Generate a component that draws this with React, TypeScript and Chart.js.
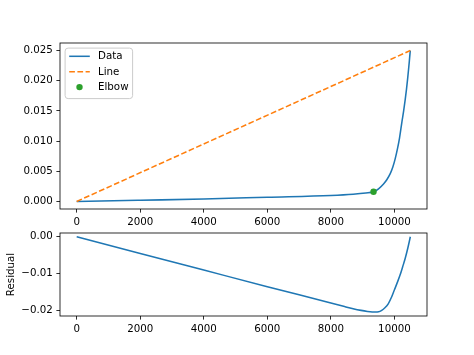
import React, { useEffect, useRef } from "react";
import { Chart, registerables } from "chart.js";

Chart.register(...registerables);

// ---- data ----
const dataX = [0, 2000, 4000, 6000, 8000, 8700, 9100, 9342, 9500, 9657, 9760, 9868, 9950, 10025, 10098, 10160, 10236, 10290, 10340, 10380, 10415, 10445, 10470, 10490, 10500];
const dataY = [0, 0.0002, 0.0004, 0.0007, 0.001, 0.0012, 0.0014, 0.0016, 0.0021, 0.0029, 0.0036, 0.0046, 0.0057, 0.0071, 0.0088, 0.0105, 0.0132, 0.015, 0.0169, 0.0186, 0.0203, 0.0219, 0.0233, 0.0245, 0.025];
const lineX = [0, 10500];
const lineY = [0, 0.025];
const elbowX = [9342];
const elbowY = [0.0016];
const resX = [0, 2000, 4000, 6000, 8000, 8400, 8700, 8950, 9150, 9300, 9400, 9500, 9600, 9700, 9800, 9900, 9970, 10080, 10180, 10260, 10340, 10420, 10470, 10500];
const resY = [0, -0.0045, -0.009, -0.0135, -0.0179, -0.0188, -0.01945, -0.0199, -0.02018, -0.02033, -0.02036, -0.0203, -0.0199, -0.0192, -0.0182, -0.0165, -0.015, -0.0126, -0.0103, -0.0081, -0.0058, -0.0031, -0.0012, 0];

const xTicks = [0, 2000, 4000, 6000, 8000, 10000];
const topYTicks = [0, 0.005, 0.01, 0.015, 0.02, 0.025];
const botYTicks = [-0.02, -0.01, 0];
const legendLabels = ["Data", "Line", "Elbow"];

const BLUE = "#1f77b4";
const ORANGE = "#ff7f0e";
const GREEN = "#2ca02c";
const FONT = "DejaVu Sans";
const FS = 10.28;

const pts = (xs: number[], ys: number[]) => xs.map((x, i) => ({ x, y: ys[i] }));
const fmtMinus = (v: number, d: number) => {
  const s = Math.abs(v) < 1e-12 ? (0).toFixed(d) : v.toFixed(d);
  return s.replace("-", "\u2212");
};

const boxPlugin = {
  id: "box",
  afterDatasetsDraw(chart: any) {
    const { ctx, chartArea: a } = chart;
    ctx.save();
    ctx.strokeStyle = "#000";
    ctx.lineWidth = 0.82;
    ctx.strokeRect(a.left, a.top, a.right - a.left, a.bottom - a.top);
    ctx.restore();
  },
};

const legendPlugin = {
  id: "mplLegend",
  afterDraw(chart: any) {
    const { ctx, chartArea: a } = chart;
    const ds = chart.data.datasets;
    const x0 = a.left + 5.1;
    const y0 = a.top + 5.1;
    const w = 67.5;
    const h = 50.5;
    ctx.save();
    ctx.beginPath();
    if (ctx.roundRect) ctx.roundRect(x0, y0, w, h, 3);
    else ctx.rect(x0, y0, w, h);
    ctx.fillStyle = "rgba(255,255,255,0.8)";
    ctx.fill();
    ctx.strokeStyle = "#cccccc";
    ctx.lineWidth = 1;
    ctx.stroke();
    ctx.font = `${FS}px "${FONT}"`;
    ctx.textBaseline = "middle";
    ctx.textAlign = "left";
    const hx0 = x0 + 4.1;
    const hx1 = hx0 + 20.6;
    ds.forEach((d: any, i: number) => {
      const cy = y0 + 8.2 + i * 15.4;
      if (d.showLine === false) {
        ctx.beginPath();
        ctx.arc((hx0 + hx1) / 2, cy, 3.2, 0, Math.PI * 2);
        ctx.fillStyle = d.backgroundColor;
        ctx.fill();
      } else {
        ctx.beginPath();
        ctx.setLineDash(d.borderDash || []);
        ctx.strokeStyle = d.borderColor;
        ctx.lineWidth = d.borderWidth;
        ctx.moveTo(hx0, cy);
        ctx.lineTo(hx1, cy);
        ctx.stroke();
        ctx.setLineDash([]);
      }
      ctx.fillStyle = "#000";
      ctx.fillText(d.label, hx1 + 8.2, cy + 0.5);
    });
    ctx.restore();
  },
};

const xScale = () => ({
  type: "linear" as const,
  min: -525,
  max: 11025,
  afterBuildTicks: (s: any) => {
    s.ticks = xTicks.map((v) => ({ value: v }));
  },
  afterFit: (s: any) => {
    s.height = 20;
  },
  grid: { display: true, drawOnChartArea: false, drawTicks: true, tickLength: 3.6, color: "#000", lineWidth: 0.82 },
  border: { display: false },
  ticks: {
    color: "#000",
    padding: 3.2,
    maxRotation: 0,
    autoSkip: false,
    font: { family: FONT, size: FS },
    callback: (v: any) => String(v),
  },
});

function yScale(min: number, max: number, ticks: number[], digits: number, title?: string) {
  return {
    type: "linear" as const,
    min,
    max,
    afterBuildTicks: (s: any) => {
      s.ticks = ticks.map((v) => ({ value: v }));
    },
    afterFit: (s: any) => {
      s.width = 60;
    },
    grid: { display: true, drawOnChartArea: false, drawTicks: true, tickLength: 3.6, color: "#000", lineWidth: 0.82 },
    border: { display: false },
    title: title
      ? { display: true, text: title, color: "#000", font: { family: FONT, size: FS }, padding: { top: 5, bottom: 0 } }
      : { display: false },
    ticks: {
      color: "#000",
      padding: 3.6,
      autoSkip: false,
      font: { family: FONT, size: FS },
      callback: (v: any) => fmtMinus(Number(v), digits),
    },
  };
}

export default function App() {
  const topRef = useRef<HTMLCanvasElement>(null);
  const botRef = useRef<HTMLCanvasElement>(null);

  useEffect(() => {
    const top = new Chart(topRef.current!, {
      type: "line",
      data: {
        datasets: [
          {
            label: legendLabels[0],
            data: pts(dataX, dataY),
            borderColor: BLUE,
            backgroundColor: BLUE,
            borderWidth: 1.54,
            pointRadius: 0,
            cubicInterpolationMode: "monotone",
            order: 3,
          },
          {
            label: legendLabels[1],
            data: pts(lineX, lineY),
            borderColor: ORANGE,
            backgroundColor: ORANGE,
            borderWidth: 1.54,
            borderDash: [5.7, 2.5],
            pointRadius: 0,
            order: 2,
          },
          {
            label: legendLabels[2],
            data: pts(elbowX, elbowY),
            showLine: false,
            borderColor: GREEN,
            backgroundColor: GREEN,
            pointRadius: 3.2,
            pointBorderWidth: 0,
            order: 1,
          },
        ] as any,
      },
      options: {
        animation: false,
        responsive: false,
        events: [],
        layout: { padding: { left: 0, top: 43, right: 47, bottom: 126 } },
        plugins: { legend: { display: false }, tooltip: { enabled: false } },
        scales: {
          x: xScale() as any,
          y: yScale(-0.00125, 0.02625, topYTicks, 3) as any,
        },
      },
      plugins: [boxPlugin, legendPlugin],
    });

    const bot = new Chart(botRef.current!, {
      type: "line",
      data: {
        datasets: [
          {
            label: "Residual",
            data: pts(resX, resY),
            borderColor: BLUE,
            backgroundColor: BLUE,
            borderWidth: 1.54,
            pointRadius: 0,
            cubicInterpolationMode: "monotone",
          },
        ] as any,
      },
      options: {
        animation: false,
        responsive: false,
        events: [],
        layout: { padding: { left: 0, top: 233, right: 47, bottom: 19 } },
        plugins: { legend: { display: false }, tooltip: { enabled: false } },
        scales: {
          x: xScale() as any,
          y: yScale(-0.02142, 0.00102, botYTicks, 2, "Residual") as any,
        },
      },
      plugins: [boxPlugin],
    });

    return () => {
      top.destroy();
      bot.destroy();
    };
  }, []);

  const cs: React.CSSProperties = { position: "absolute", left: 0, top: 0, width: 474, height: 355, display: "block" };
  return (
    <div style={{ position: "absolute", left: 0, top: 0, width: 474, height: 355, background: "#fff" }}>
      <canvas ref={botRef} width={474} height={355} style={cs} />
      <canvas ref={topRef} width={474} height={355} style={cs} />
    </div>
  );
}
